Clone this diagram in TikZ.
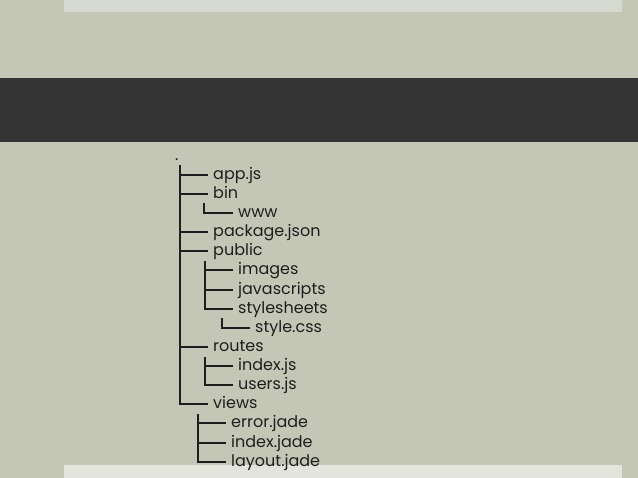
\documentclass[tikz,border=0pt]{standalone}
\usepackage{fontspec}
\newfontfamily\gothic{Poppins}
\definecolor{slidebg}{HTML}{C4C7B6}
\definecolor{topband}{HTML}{D6D9CF}
\definecolor{darkband}{HTML}{333333}
\definecolor{botband}{HTML}{E3E4DC}
\definecolor{ink}{HTML}{1E1E1E}
\tikzset{
  item/.style={anchor=west, inner sep=0pt, text height=10pt, text depth=0pt, text=ink, font=\gothic\fontsize{16}{19}\selectfont},
  branch/.style={ink, line width=2pt}
}
\begin{document}
\begin{tikzpicture}[x=1pt, y=-1pt]
        \fill[slidebg] (0,0) rectangle (638,478);
        \fill[topband] (64,0) rectangle (622,12.5);
        \fill[darkband] (0,78) rectangle (638,142);
        \fill[botband] (64,465) rectangle (622,478);
        \useasboundingbox (0,0) rectangle (638,478);
        % the listing
        \node[item] (root) at (175,156) {.};
        \node[item] (app) at (213,175) {app.js};
        \node[item] (bin) at (213,194) {bin};
        \node[item] (www) at (238,213) {www};
        \node[item] (package) at (213,232) {package.json};
        \node[item] (public) at (213,251) {public};
        \node[item] (images) at (238,270) {images};
        \node[item] (javascripts) at (238,290) {javascripts};
        \node[item] (stylesheets) at (238,309) {stylesheets};
        \node[item] (stylecss) at (255,328) {style.css};
        \node[item] (routes) at (213,347) {routes};
        \node[item] (indexjs) at (238,366) {index.js};
        \node[item] (usersjs) at (238,385) {users.js};
        \node[item] (views) at (213,404) {views};
        \node[item] (errorjade) at (231,423) {error.jade};
        \node[item] (indexjade) at (231,443) {index.jade};
        \node[item] (layoutjade) at (231,462) {layout.jade};
        % branches
        \coordinate (trunk) at (180,165);
        \draw[branch] (trunk) |- ([xshift=-5pt]views.west);
        \foreach \n in {app,bin,package,public,routes}
        \draw[branch] (trunk |- \n.west) -- ([xshift=-5pt]\n.west);
        \coordinate (binv) at (204,203);
        \draw[branch] (binv) |- ([xshift=-5pt]www.west);
        \coordinate (publicv) at (205,261);
        \draw[branch] (publicv) |- ([xshift=-5pt]stylesheets.west);
        \foreach \n in {images,javascripts}
        \draw[branch] (publicv |- \n.west) -- ([xshift=-5pt]\n.west);
        \coordinate (stylev) at (222,318);
        \draw[branch] (stylev) |- ([xshift=-5pt]stylecss.west);
        \coordinate (routesv) at (205,357);
        \draw[branch] (routesv) |- ([xshift=-5pt]usersjs.west);
        \draw[branch] (routesv |- indexjs.west) -- ([xshift=-5pt]indexjs.west);
        \coordinate (viewsv) at (198,414);
        \draw[branch] (viewsv) |- ([xshift=-5pt]layoutjade.west);
        \foreach \n in {errorjade,indexjade}
        \draw[branch] (viewsv |- \n.west) -- ([xshift=-5pt]\n.west);
\end{tikzpicture}
\end{document}
